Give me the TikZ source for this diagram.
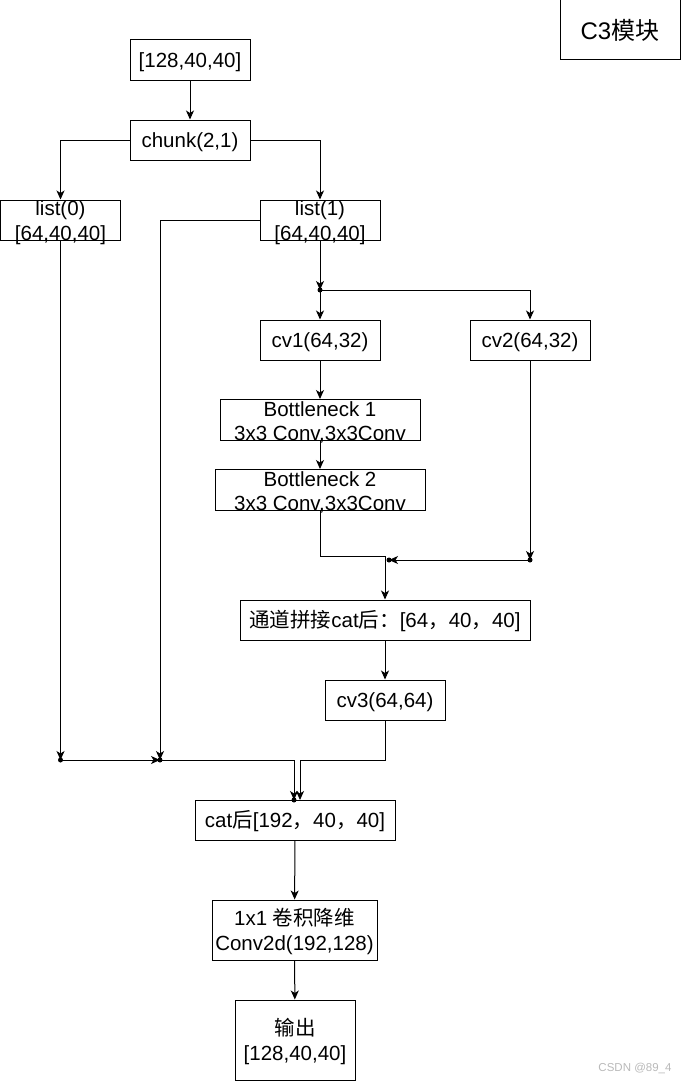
\documentclass[tikz,border=0pt]{standalone}
\usepackage{fontspec}
\setmainfont{Liberation Sans}
\newfontfamily\cjk{Noto Sans CJK SC}
\usetikzlibrary{arrows.meta}

\begin{document}
\begin{tikzpicture}[x=1pt,y=-1pt,line width=1pt,>={Stealth[length=9pt,width=8pt,inset=2.5pt]},
        font=\fontsize{20.5}{24.5}\selectfont,
        box/.style={draw,inner sep=0pt,minimum width=#1,minimum height=40pt,text height=17.5pt,text depth=2.5pt},
        twoline/.style={align=center,text height=#1,text depth=40pt-#1}]
        \useasboundingbox (0,0) rectangle (681,1081);
        \node[box=120pt,minimum height=60pt,text height=20pt,text depth=0pt,font=\fontsize{24}{28}\selectfont] (title) at (620,30) {C3{\cjk 模块}};
        \node[box=120pt] (in) at (190,60) {[128,40,40]};
        \node[box=120pt] (chunk) at (190,140) {chunk(2,1)};
        \node[box=120pt,twoline=40pt] (l0) at (60.5,220) {list(0)\\{[64,40,40]}};
        \node[box=120pt,twoline=40pt] (l1) at (320,220) {list(1)\\{[64,40,40]}};
        \node[box=120pt] (cv1) at (320,340) {cv1(64,32)};
        \node[box=120pt] (cv2) at (530,340) {cv2(64,32)};
        \node[box=200pt,twoline=41pt] (b1) at (320,420) {Bottleneck 1\\3x3 Conv,3x3Conv};
        \node[box=210pt,twoline=41pt] (b2) at (320,490) {Bottleneck 2\\3x3 Conv,3x3Conv};
        \node[box=290pt] (cat1) at (385,620) {{\cjk 通道拼接}cat{\cjk 后：}[64{\cjk ，}40{\cjk ，}40]};
        \node[box=120pt] (cv3) at (385,700) {cv3(64,64)};
        \node[box=200pt] (cat2) at (295,820) {cat{\cjk 后}[192{\cjk ，}40{\cjk ，}40]};
        \node[box=165pt,minimum height=60pt,align=center,text height=50pt,text depth=10pt] (conv) at (294.5,930) {1x1 {\cjk 卷积降维}\\Conv2d(192,128)};
        \node[box=120pt,minimum height=80pt,align=center,text height=60pt,text depth=20pt] (out) at (295,1040) {{\cjk 输出}\\{[128,40,40]}};
        \node[text=gray!55,font=\fontsize{11.5}{13}\selectfont] (mark) at (635,1068) {CSDN @89\_4};
        \coordinate (s1) at (320,290);
        \coordinate (s2) at (530,560);
        \coordinate (s3) at (389,560);
        \coordinate (s4) at (60.5,760);
        \coordinate (s5) at (160,760);
        \coordinate (s6) at (294,800);
        \coordinate (s7) at (300,800);
        \draw[->] (in) -- (chunk);
        \draw[->] (chunk.west) -| (l0);
        \draw[->] (chunk.east) -| (l1);
        \draw[->] (l1) -- (s1);
        \draw[->] (s1) -- (cv1);
        \draw[->] (s1) -| (cv2);
        \draw[->] (cv1) -- (b1);
        \draw[->] (b1) -- (b2);
        \draw[->] (b2.south) -- ++(0,45) -| (cat1);
        \draw[->] (cv2) -- (s2);
        \draw[->] (s2) -- (s3);
        \draw[->] (cat1) -- (cv3);
        \draw[->] (l0) -- (s4);
        \draw[->] (l1.west) -| (s5);
        \draw[->] (s4) -- (s5);
        \draw[->] (s5) -| (s6);
        \draw[->] (cv3.south) -- ++(0,40) -| (s7);
        \draw[->] (cat2) -- (conv);
        \draw[->] (conv) -- (out);
        \foreach \p in {s1,s2,s3,s4,s5,s6}
            \fill (\p) circle (2.5pt);
    \end{tikzpicture}
\end{document}
